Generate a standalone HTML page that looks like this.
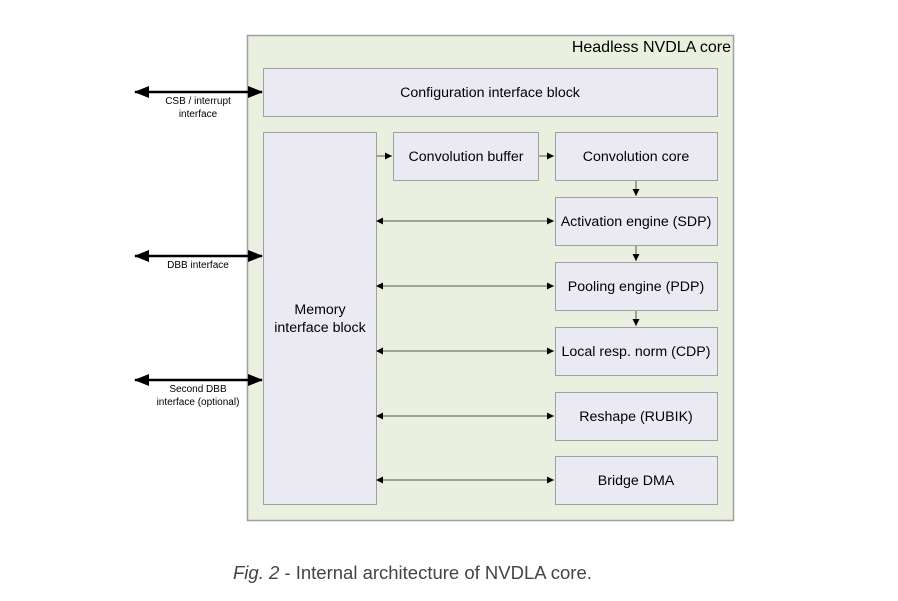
<!DOCTYPE html>
<html><head><meta charset="utf-8"><style>
html,body{margin:0;padding:0;background:#fff;width:898px;height:601px;overflow:hidden}
svg{display:block}
text{font-family:"Liberation Sans",Arial,sans-serif;fill:#000}
</style></head><body>
<svg width="898" height="601" viewBox="0 0 898 601" xmlns="http://www.w3.org/2000/svg">
<defs>
<marker id="a" markerWidth="8" markerHeight="8" refX="7" refY="4" orient="auto" markerUnits="userSpaceOnUse"><path d="M0,0.5 L7,4 L0,7.5 z" fill="#000"/></marker>
<marker id="as" markerWidth="8" markerHeight="8" refX="1" refY="4" orient="auto" markerUnits="userSpaceOnUse"><path d="M7,0.5 L0,4 L7,7.5 z" fill="#000"/></marker>
<marker id="b" markerWidth="16" markerHeight="12" refX="14" refY="6" orient="auto" markerUnits="userSpaceOnUse"><path d="M0,0 L15,6 L0,12 z" fill="#000"/></marker>
<marker id="bs" markerWidth="16" markerHeight="12" refX="1" refY="6" orient="auto" markerUnits="userSpaceOnUse"><path d="M15,0 L0,6 L15,12 z" fill="#000"/></marker>
</defs>
<rect x="247.5" y="35.5" width="486" height="485" fill="#eaf0df" stroke="#a0a0a0" stroke-width="1.5"/>
<text x="731" y="52" font-size="16" text-anchor="end">Headless NVDLA core</text>
<g fill="#ebe9f1" stroke="#a0a0a0" stroke-width="1">
<rect x="263.5" y="68.5" width="454" height="48"/>
<rect x="263.5" y="132.5" width="113" height="372"/>
<rect x="393.5" y="132.5" width="145" height="48"/>
<rect x="555.5" y="132.5" width="162" height="48"/>
<rect x="555.5" y="197.5" width="162" height="48"/>
<rect x="555.5" y="262.5" width="162" height="48"/>
<rect x="555.5" y="327.5" width="162" height="48"/>
<rect x="555.5" y="392.5" width="162" height="48"/>
<rect x="555.5" y="456.5" width="162" height="48"/>
</g>
<g font-size="14.2" text-anchor="middle">
<text x="490" y="97">Configuration interface block</text>
<text x="320" y="314">Memory</text>
<text x="320" y="332">interface block</text>
<text x="466" y="161">Convolution buffer</text>
<text x="636" y="161">Convolution core</text>
<text x="636" y="226">Activation engine (SDP)</text>
<text x="636" y="291">Pooling engine (PDP)</text>
<text x="636" y="356">Local resp. norm (CDP)</text>
<text x="636" y="421">Reshape (RUBIK)</text>
<text x="636" y="485">Bridge DMA</text>
</g>
<g stroke="#000" stroke-width="2.5">
<line x1="135" y1="92" x2="262" y2="92" marker-start="url(#bs)" marker-end="url(#b)"/>
<line x1="135" y1="256" x2="262" y2="256" marker-start="url(#bs)" marker-end="url(#b)"/>
<line x1="135" y1="380" x2="262" y2="380" marker-start="url(#bs)" marker-end="url(#b)"/>
</g>
<g font-size="10" text-anchor="middle">
<text x="198" y="104">CSB / interrupt</text>
<text x="198" y="117">interface</text>
<text x="198" y="268">DBB interface</text>
<text x="198" y="392">Second DBB</text>
<text x="198" y="405">interface (optional)</text>
</g>
<g stroke="#555" stroke-width="1">
<line x1="377" y1="156" x2="392" y2="156" marker-end="url(#a)"/>
<line x1="539" y1="156" x2="554" y2="156" marker-end="url(#a)"/>
<line x1="636" y1="181" x2="636" y2="196" marker-end="url(#a)"/>
<line x1="636" y1="246" x2="636" y2="261" marker-end="url(#a)"/>
<line x1="636" y1="311" x2="636" y2="326" marker-end="url(#a)"/>
<line x1="377" y1="221" x2="554" y2="221" marker-start="url(#as)" marker-end="url(#a)"/>
<line x1="377" y1="286" x2="554" y2="286" marker-start="url(#as)" marker-end="url(#a)"/>
<line x1="377" y1="351" x2="554" y2="351" marker-start="url(#as)" marker-end="url(#a)"/>
<line x1="377" y1="416" x2="554" y2="416" marker-start="url(#as)" marker-end="url(#a)"/>
<line x1="377" y1="480" x2="554" y2="480" marker-start="url(#as)" marker-end="url(#a)"/>
</g>
<text x="233" y="579" font-size="18.5" style="fill:#444"><tspan font-style="italic">Fig. 2</tspan> - Internal architecture of NVDLA core.</text>
</svg>
</body></html>
